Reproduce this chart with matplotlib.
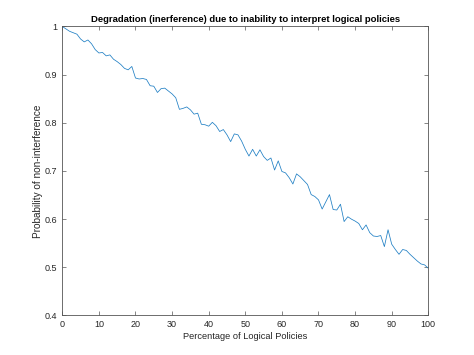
import matplotlib
matplotlib.use("Agg")
import matplotlib.pyplot as plt
import numpy as np

# percentage of logical policies (0..100)
pct = list(range(0, 101))

# probability of non-interference
prob = [
    1.000, 0.995, 0.990, 0.987, 0.984, 0.974, 0.968, 0.972, 0.964, 0.952,
    0.945, 0.946, 0.939, 0.941, 0.932, 0.927, 0.921, 0.913, 0.910, 0.917,
    0.893, 0.891, 0.892, 0.890, 0.877, 0.876, 0.863, 0.871, 0.872, 0.866,
    0.860, 0.852, 0.828, 0.830, 0.833, 0.827, 0.818, 0.820, 0.797, 0.796,
    0.793, 0.801, 0.794, 0.782, 0.786, 0.775, 0.761, 0.777, 0.775, 0.762,
    0.745, 0.731, 0.745, 0.731, 0.744, 0.730, 0.722, 0.727, 0.702, 0.721,
    0.699, 0.696, 0.686, 0.673, 0.694, 0.688, 0.680, 0.672, 0.651, 0.647,
    0.640, 0.621, 0.636, 0.651, 0.620, 0.619, 0.631, 0.595, 0.605, 0.600,
    0.596, 0.591, 0.578, 0.588, 0.572, 0.565, 0.564, 0.566, 0.543, 0.578,
    0.548, 0.537, 0.527, 0.537, 0.535, 0.527, 0.520, 0.513, 0.507, 0.505,
    0.498,
]

xticks = list(range(0, 101, 10))
yticks = [0.4, 0.5, 0.6, 0.7, 0.8, 0.9, 1.0]
ytick_labels = ["0.4", "0.5", "0.6", "0.7", "0.8", "0.9", "1"]

plt.rcParams['font.family'] = ['Liberation Sans', 'DejaVu Sans']

fig = plt.figure(figsize=(4.74, 3.55), dpi=100)
ax = fig.add_axes([0.1314, 0.1113, 0.7722, 0.8141])

ax.plot(pct, prob, color='#1f7fc4', linewidth=0.55)

ax.set_xlim(0, 100)
ax.set_ylim(0.4, 1.0)
ax.set_xticks(xticks)
ax.set_yticks(yticks)
ax.set_yticklabels(ytick_labels)

edge = '#262626'
for s in ax.spines.values():
    s.set_color('#555555')
    s.set_linewidth(0.6)
ax.tick_params(direction='in', top=True, right=True, length=3, width=0.5,
               color='#555555', labelcolor=edge, labelsize=6.5)

ax.set_xlabel('Percentage of Logical Policies', fontsize=6.7, color=edge, labelpad=2)
ax.set_ylabel('Probability of non-interference', fontsize=7.2, color=edge, labelpad=1)
ax.set_title('Degradation (inerference) due to inability to interpret logical policies',
             fontsize=6.8, fontweight='bold', color='black', pad=3)

fig.savefig('out.png', dpi=100)
